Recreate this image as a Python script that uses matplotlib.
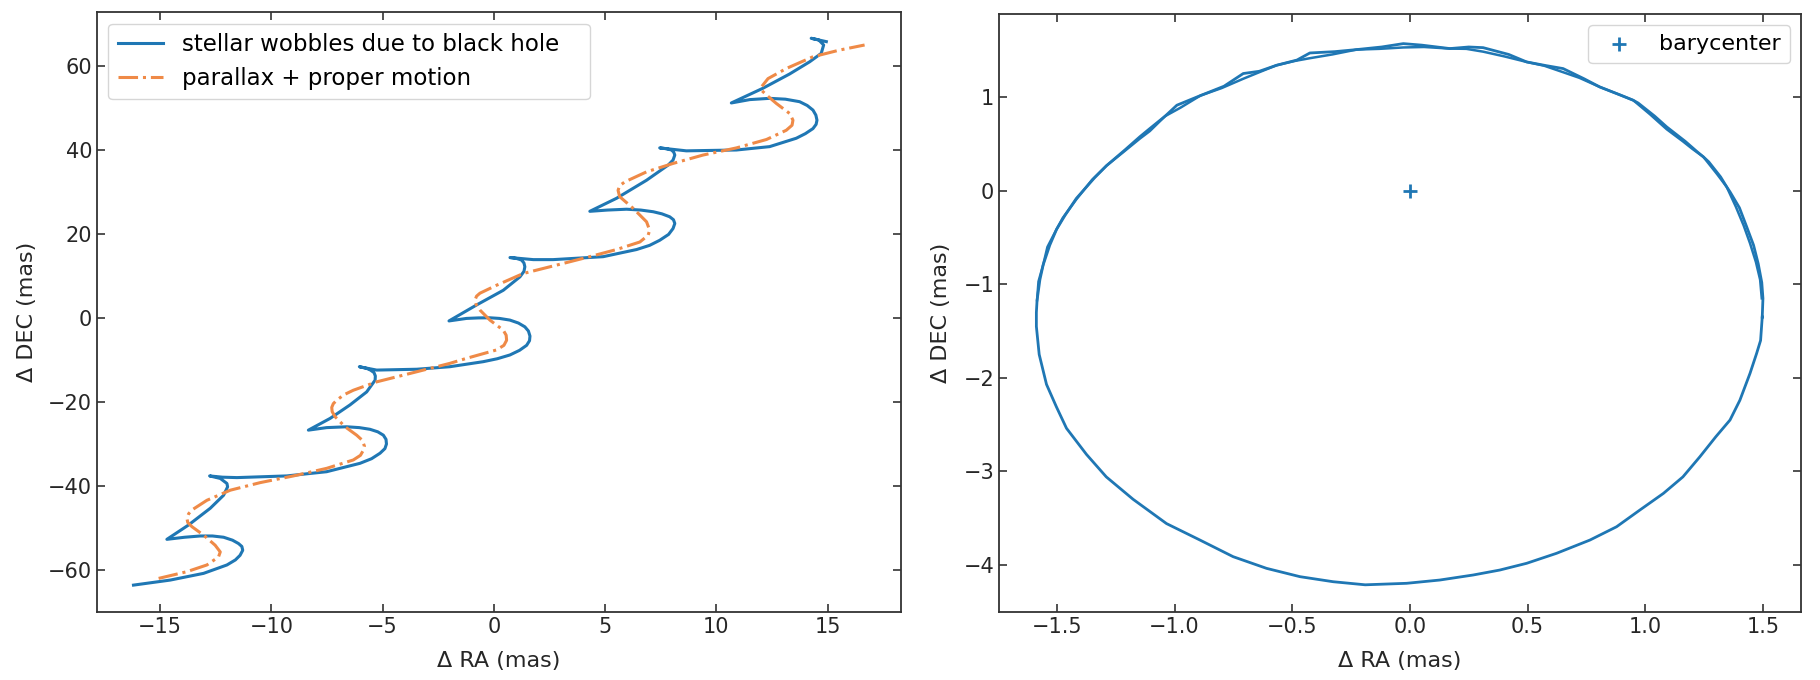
import numpy as np
import matplotlib.pyplot as plt

# left panel: sky track of the star
wobble_ra = [-16.20, -14.55, -13.05, -12.00, -11.62, -11.41, -11.29, -11.33, -11.48, -11.75,
             -12.15, -12.65, -13.20, -13.90, -14.70, -13.73, -12.75, -12.15, -11.97, -12.00,
             -12.30, -12.78, -12.20, -11.55, -9.31, -7.52, -6.02, -5.50, -5.12, -4.90,
             -4.83, -4.85, -4.97, -5.22, -5.57, -6.05, -6.62, -7.52, -8.34, -7.36,
             -6.47, -5.72, -5.34, -5.33, -5.39, -5.55, -5.72, -6.05, -5.27, -3.47,
             -1.98, -0.48, 0.15, 0.72, 1.15, 1.47, 1.60, 1.62, 1.55, 1.39,
             1.10, 0.72, 0.25, -0.18, -0.70, -1.23, -2.02, -0.78, 0.42, 1.17,
             1.35, 1.39, 1.35, 1.24, 1.00, 0.72, 1.77, 2.66, 4.91, 6.41,
             7.00, 7.45, 7.85, 8.05, 8.13, 8.07, 7.90, 7.55, 7.16, 6.60,
             5.96, 5.10, 4.31, 5.51, 6.86, 7.83, 8.05, 8.13, 8.08, 7.98,
             7.75, 7.45, 8.65, 10.90, 12.39, 13.59, 14.00, 14.34, 14.48, 14.52,
             14.47, 14.34, 14.08, 13.74, 13.10, 12.39, 11.50, 10.67, 12.09, 13.29,
             14.19, 14.71, 14.82, 14.60, 14.26, 14.94]
wobble_dec = [-63.5, -62.3, -60.7, -58.7, -57.5, -56.4, -55.2, -54.3, -53.6, -52.8,
              -52.1, -51.8, -51.8, -52.1, -52.6, -49.2, -45.2, -42.1, -40.1, -39.3,
              -38.1, -37.5, -37.8, -37.9, -37.5, -36.5, -34.5, -33.4, -32.1, -31.0,
              -29.9, -28.8, -27.8, -27.0, -26.4, -26.0, -25.8, -26.0, -26.6, -23.8,
              -20.6, -17.5, -14.7, -13.7, -12.9, -12.3, -11.9, -11.5, -12.3, -12.1,
              -11.5, -10.3, -9.6, -8.7, -7.6, -6.4, -5.3, -4.2, -3.0, -2.0,
              -1.1, -0.4, 0.0, 0.15, 0.12, 0.0, -0.6, 3.2, 6.7, 9.9,
              11.2, 12.3, 13.2, 13.9, 14.3, 14.5, 14.0, 14.0, 14.7, 16.4,
              17.4, 18.6, 20.0, 21.4, 22.6, 23.5, 24.2, 24.9, 25.4, 25.8,
              26.0, 25.8, 25.5, 28.6, 32.9, 36.5, 37.7, 38.9, 39.6, 40.1,
              40.4, 40.6, 39.9, 40.1, 40.9, 42.9, 44.0, 45.2, 46.2, 47.2,
              48.4, 49.6, 50.7, 51.6, 52.2, 52.4, 52.1, 51.3, 54.8, 58.2,
              61.1, 63.1, 65.1, 66.3, 66.7, 65.9]

plx_ra = [-15.07, -13.80, -12.90, -12.38, -12.30, -12.53, -13.05, -13.57, -13.76, -13.80,
          -13.72, -13.57, -12.90, -11.85, -10.51, -9.01, -7.52, -6.32, -6.00, -5.87,
          -5.82, -5.92, -6.17, -6.69, -7.14, -7.27, -7.29, -7.22, -7.07, -6.75,
          -6.32, -5.27, -3.47, -1.98, -1.23, 0.12, 0.45, 0.57, 0.55, 0.42,
          -0.18, -0.63, -0.80, -0.85, -0.78, -0.63, 0.12, 1.32, 2.82, 4.16,
          5.51, 6.56, 6.93, 7.00, 6.86, 6.26, 5.65, 5.58, 5.65, 5.88,
          6.86, 8.05, 9.40, 10.90, 12.25, 13.14, 13.40, 13.44, 13.29, 12.69,
          12.25, 12.05, 12.02, 12.32, 13.14, 14.34, 15.54, 16.66]
plx_dec = [-61.9, -60.3, -58.7, -56.8, -55.6, -54.0, -51.6, -49.6, -48.6, -47.6,
           -46.5, -45.6, -43.3, -40.9, -39.1, -37.5, -35.7, -33.7, -32.6, -31.4,
           -30.4, -29.0, -27.8, -25.8, -23.4, -22.2, -21.2, -20.3, -19.5, -18.2,
           -17.1, -15.1, -12.7, -10.7, -9.5, -7.5, -6.4, -5.2, -4.0, -2.8,
           -0.4, 2.0, 3.3, 4.4, 5.3, 6.0, 7.9, 10.7, 12.7, 14.5,
           16.4, 18.2, 19.8, 21.0, 23.0, 26.2, 29.0, 30.5, 31.6, 32.5,
           34.9, 36.9, 38.9, 40.6, 42.6, 44.8, 46.0, 47.2, 48.8, 51.2,
           53.2, 54.2, 55.1, 57.1, 59.5, 62.3, 63.9, 65.1]

# right panel: orbit around the barycenter (outer strand, closed)
orbit_ra = [1.497, 1.500, 1.495, 1.480, 1.460, 1.431, 1.400, 1.360, 1.346, 1.320,
            1.270, 1.247, 1.220, 1.170, 1.091, 1.040, 0.970, 0.949, 0.900, 0.807,
            0.740, 0.651, 0.580, 0.496, 0.420, 0.311, 0.250, 0.170, 0.050, -0.028,
            -0.120, -0.227, -0.320, -0.425, -0.480, -0.567, -0.640, -0.708, -0.790, -0.890,
            -0.990, -1.040, -1.105, -1.147, -1.210, -1.289, -1.340, -1.417, -1.465, -1.501,
            -1.530, -1.558, -1.572, -1.584, -1.587, -1.587, -1.575, -1.544, -1.502, -1.459,
            -1.374, -1.290, -1.176, -1.034, -0.892, -0.751, -0.609, -0.467, -0.326, -0.190,
            -0.014, 0.127, 0.269, 0.382, 0.496, 0.623, 0.765, 0.878, 0.977, 1.077,
            1.160, 1.232, 1.300, 1.360, 1.402, 1.445, 1.473, 1.490, 1.497]
orbit_dec = [-1.35, -1.15, -0.98, -0.78, -0.58, -0.385, -0.18, -0.01, 0.043, 0.15,
             0.31, 0.364, 0.42, 0.53, 0.685, 0.80, 0.94, 0.970, 1.02, 1.112,
             1.20, 1.309, 1.34, 1.380, 1.46, 1.533, 1.54, 1.523, 1.56, 1.576,
             1.54, 1.512, 1.49, 1.476, 1.40, 1.344, 1.28, 1.256, 1.12, 1.020,
             0.917, 0.80, 0.667, 0.58, 0.44, 0.27, 0.14, -0.08, -0.26, -0.410,
             -0.58, -0.79, -0.95, -1.169, -1.30, -1.45, -1.75, -2.07, -2.31, -2.54,
             -2.82, -3.06, -3.30, -3.56, -3.736, -3.914, -4.039, -4.128, -4.182, -4.215,
             -4.199, -4.164, -4.110, -4.057, -3.985, -3.878, -3.736, -3.594, -3.415, -3.237,
             -3.06, -2.845, -2.63, -2.452, -2.24, -1.953, -1.74, -1.60, -1.35]

# second pass over the upper half (inner strand of the braid)
orbit2_ra = [1.495, 1.488, 1.470, 1.445, 1.418, 1.385, 1.346, 1.305, 1.247, 1.200,
             1.160, 1.091, 1.020, 0.949, 0.880, 0.807, 0.720, 0.651, 0.570, 0.496,
             0.400, 0.311, 0.240, 0.170, 0.060, -0.028, -0.130, -0.227, -0.330, -0.425,
             -0.490, -0.567, -0.640, -0.708, -0.800, -0.890, -0.975, -1.040, -1.105, -1.147,
             -1.220, -1.289, -1.350, -1.417, -1.475, -1.501, -1.540, -1.558, -1.578, -1.584]
orbit2_dec = [-1.15, -0.95, -0.76, -0.56, -0.37, -0.17, 0.043, 0.18, 0.364, 0.45,
              0.53, 0.66, 0.82, 0.970, 1.04, 1.112, 1.21, 1.27, 1.34, 1.380,
              1.44, 1.49, 1.52, 1.523, 1.54, 1.535, 1.52, 1.512, 1.46, 1.42,
              1.39, 1.344, 1.27, 1.20, 1.10, 1.020, 0.89, 0.80, 0.64, 0.56,
              0.41, 0.27, 0.12, -0.09, -0.29, -0.410, -0.60, -0.79, -0.97, -1.169]

bary_ra = [0.0]
bary_dec = [0.0]

blue = '#1f77b4'
orange = '#ef8a47'
txt = '#262626'

plt.rcParams['font.family'] = 'DejaVu Sans'
plt.rcParams['axes.edgecolor'] = '#333333'
plt.rcParams['axes.linewidth'] = 1.3

fig = plt.figure(figsize=(18.2, 6.8), dpi=100)
ax1 = fig.add_axes([0.0533, 0.1, 0.4418, 0.882])
ax2 = fig.add_axes([0.549, 0.1, 0.4406, 0.879])

ax1.plot(wobble_ra, wobble_dec, color=blue, lw=2.2, solid_joinstyle='round',
         label='stellar wobbles due to black hole   ')
ax1.plot(plx_ra, plx_dec, color=orange, lw=2.2, ls='-.', label='parallax + proper motion')
ax1.set_xlim(-17.84, 18.3)
ax1.set_ylim(-69.9, 72.9)
ax1.set_xticks([-15, -10, -5, 0, 5, 10, 15])
ax1.set_yticks([-60, -40, -20, 0, 20, 40, 60])
ax1.set_xlabel('Δ RA (mas)', fontsize=16, color=txt, labelpad=10)
ax1.set_ylabel('Δ DEC (mas)', fontsize=16, color=txt, labelpad=8)
ax1.legend(loc='upper left', fontsize=16.5, borderaxespad=0.5)

ax2.plot(orbit_ra, orbit_dec, color=blue, lw=2.0, solid_joinstyle='round')
ax2.plot(orbit2_ra, orbit2_dec, color=blue, lw=1.8, solid_joinstyle='round')
ax2.scatter(bary_ra, bary_dec, marker='+', s=90, linewidths=2, color=blue, label='barycenter')
ax2.set_xlim(-1.745, 1.662)
ax2.set_ylim(-4.506, 1.89)
ax2.set_xticks([-1.5, -1.0, -0.5, 0.0, 0.5, 1.0, 1.5])
ax2.set_yticks([-4, -3, -2, -1, 0, 1])
ax2.set_xlabel('Δ RA (mas)', fontsize=16, color=txt, labelpad=10)
ax2.set_ylabel('Δ DEC (mas)', fontsize=16, color=txt, labelpad=9)
ax2.legend(loc='upper right', fontsize=16, borderaxespad=0.5)

for ax in (ax1, ax2):
    ax.tick_params(direction='in', top=True, right=True, length=5.5, width=1.2,
                   labelsize=15, labelcolor=txt, color='#333333')

fig.savefig('out.png', dpi=100)
